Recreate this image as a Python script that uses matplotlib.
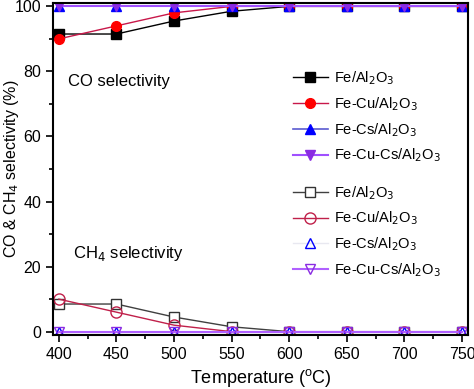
import numpy as np
import matplotlib.pyplot as plt

plt.rcParams['font.family'] = ['Liberation Sans', 'DejaVu Sans']

temps = [400, 450, 500, 550, 600, 650, 700, 750]

# CO selectivity (%)
co_fe = [91.5, 91.5, 95.5, 98.5, 100, 100, 100, 100]
co_fecu = [90, 94, 98, 100, 100, 100, 100, 100]
co_fecs = [100, 100, 100, 100, 100, 100, 100, 100]
co_fecucs = [100, 100, 100, 100, 100, 100, 100, 100]

# CH4 selectivity (%)
ch4_fe = [8.5, 8.5, 4.5, 1.5, 0, 0, 0, 0]
ch4_fecu = [10, 6, 2, 0, 0, 0, 0, 0]
ch4_fecs = [0, 0, 0, 0, 0, 0, 0, 0]
ch4_fecucs = [0, 0, 0, 0, 0, 0, 0, 0]

labels = ['Fe/Al$_2$O$_3$', 'Fe-Cu/Al$_2$O$_3$', 'Fe-Cs/Al$_2$O$_3$', 'Fe-Cu-Cs/Al$_2$O$_3$']

fig = plt.figure(figsize=(4.74, 3.89), dpi=100)
ax = fig.add_axes([0.112, 0.139, 0.875, 0.853])

ms = 7
h1 = []
h1 += ax.plot(temps, co_fe, '-s', color='black', lw=1, ms=ms, mfc='black', mec='black')
h1 += ax.plot(temps, co_fecu, '-o', color='#c8184a', lw=1, ms=ms, mfc='red', mec='red')
h1 += ax.plot(temps, co_fecs, '-^', color='#5a5ad0', lw=1.2, ms=ms, mfc='blue', mec='blue')
h1 += ax.plot(temps, co_fecucs, '-v', color='#a050ff', lw=1.5, ms=ms, mfc='#8a2be2', mec='#8a2be2')

h2 = []
h2 += ax.plot(temps, ch4_fe, '-s', color='#404040', lw=1, ms=ms, mfc='white', mec='#333333')
h2 += ax.plot(temps, ch4_fecu, '-o', color='#c0204a', lw=1, ms=ms + 1, mfc='none', mec='#c0204a')
h2 += ax.plot(temps, ch4_fecs, '-^', color='#e8e8f0', lw=1, ms=ms, mfc='none', mec='blue')
h2 += ax.plot(temps, ch4_fecucs, '-v', color='#b060ff', lw=1.5, ms=ms, mfc='none', mec='#8a2be2')

ax.set_xlim(395, 755)
ax.set_ylim(-1, 101)
ax.set_xticks(np.arange(400, 751, 50))
ax.set_xticks(np.arange(425, 751, 50), minor=True)
ax.set_yticks(np.arange(0, 101, 20))
ax.set_yticks(np.arange(10, 101, 20), minor=True)
ax.tick_params(which='major', direction='out', length=5, width=1.2, labelsize=11.5)
ax.tick_params(which='minor', direction='out', length=3, width=1.2)
for s in ax.spines.values():
    s.set_linewidth(1.5)

ax.set_xlabel('Temperature ($\\mathregular{^o}$C)', fontsize=13)
ax.set_ylabel('CO & CH$_4$ selectivity (%)', fontsize=11.5)
ax.yaxis.set_label_coords(-0.077, 0.5)

ax.text(408, 77, 'CO selectivity', fontsize=12, va='center')
ax.text(412, 24, 'CH$_4$ selectivity', fontsize=12, va='center')

kw = dict(loc='upper left', frameon=False, fontsize=10.5, handlelength=2.4,
          handletextpad=0.45, labelspacing=0.55, borderaxespad=0, borderpad=0)
leg1 = ax.legend(h1, labels, bbox_to_anchor=(0.578, 0.8), **kw)
ax.add_artist(leg1)
ax.legend(h2, labels, bbox_to_anchor=(0.578, 0.455), **kw)

fig.savefig('out.png', dpi=100)
